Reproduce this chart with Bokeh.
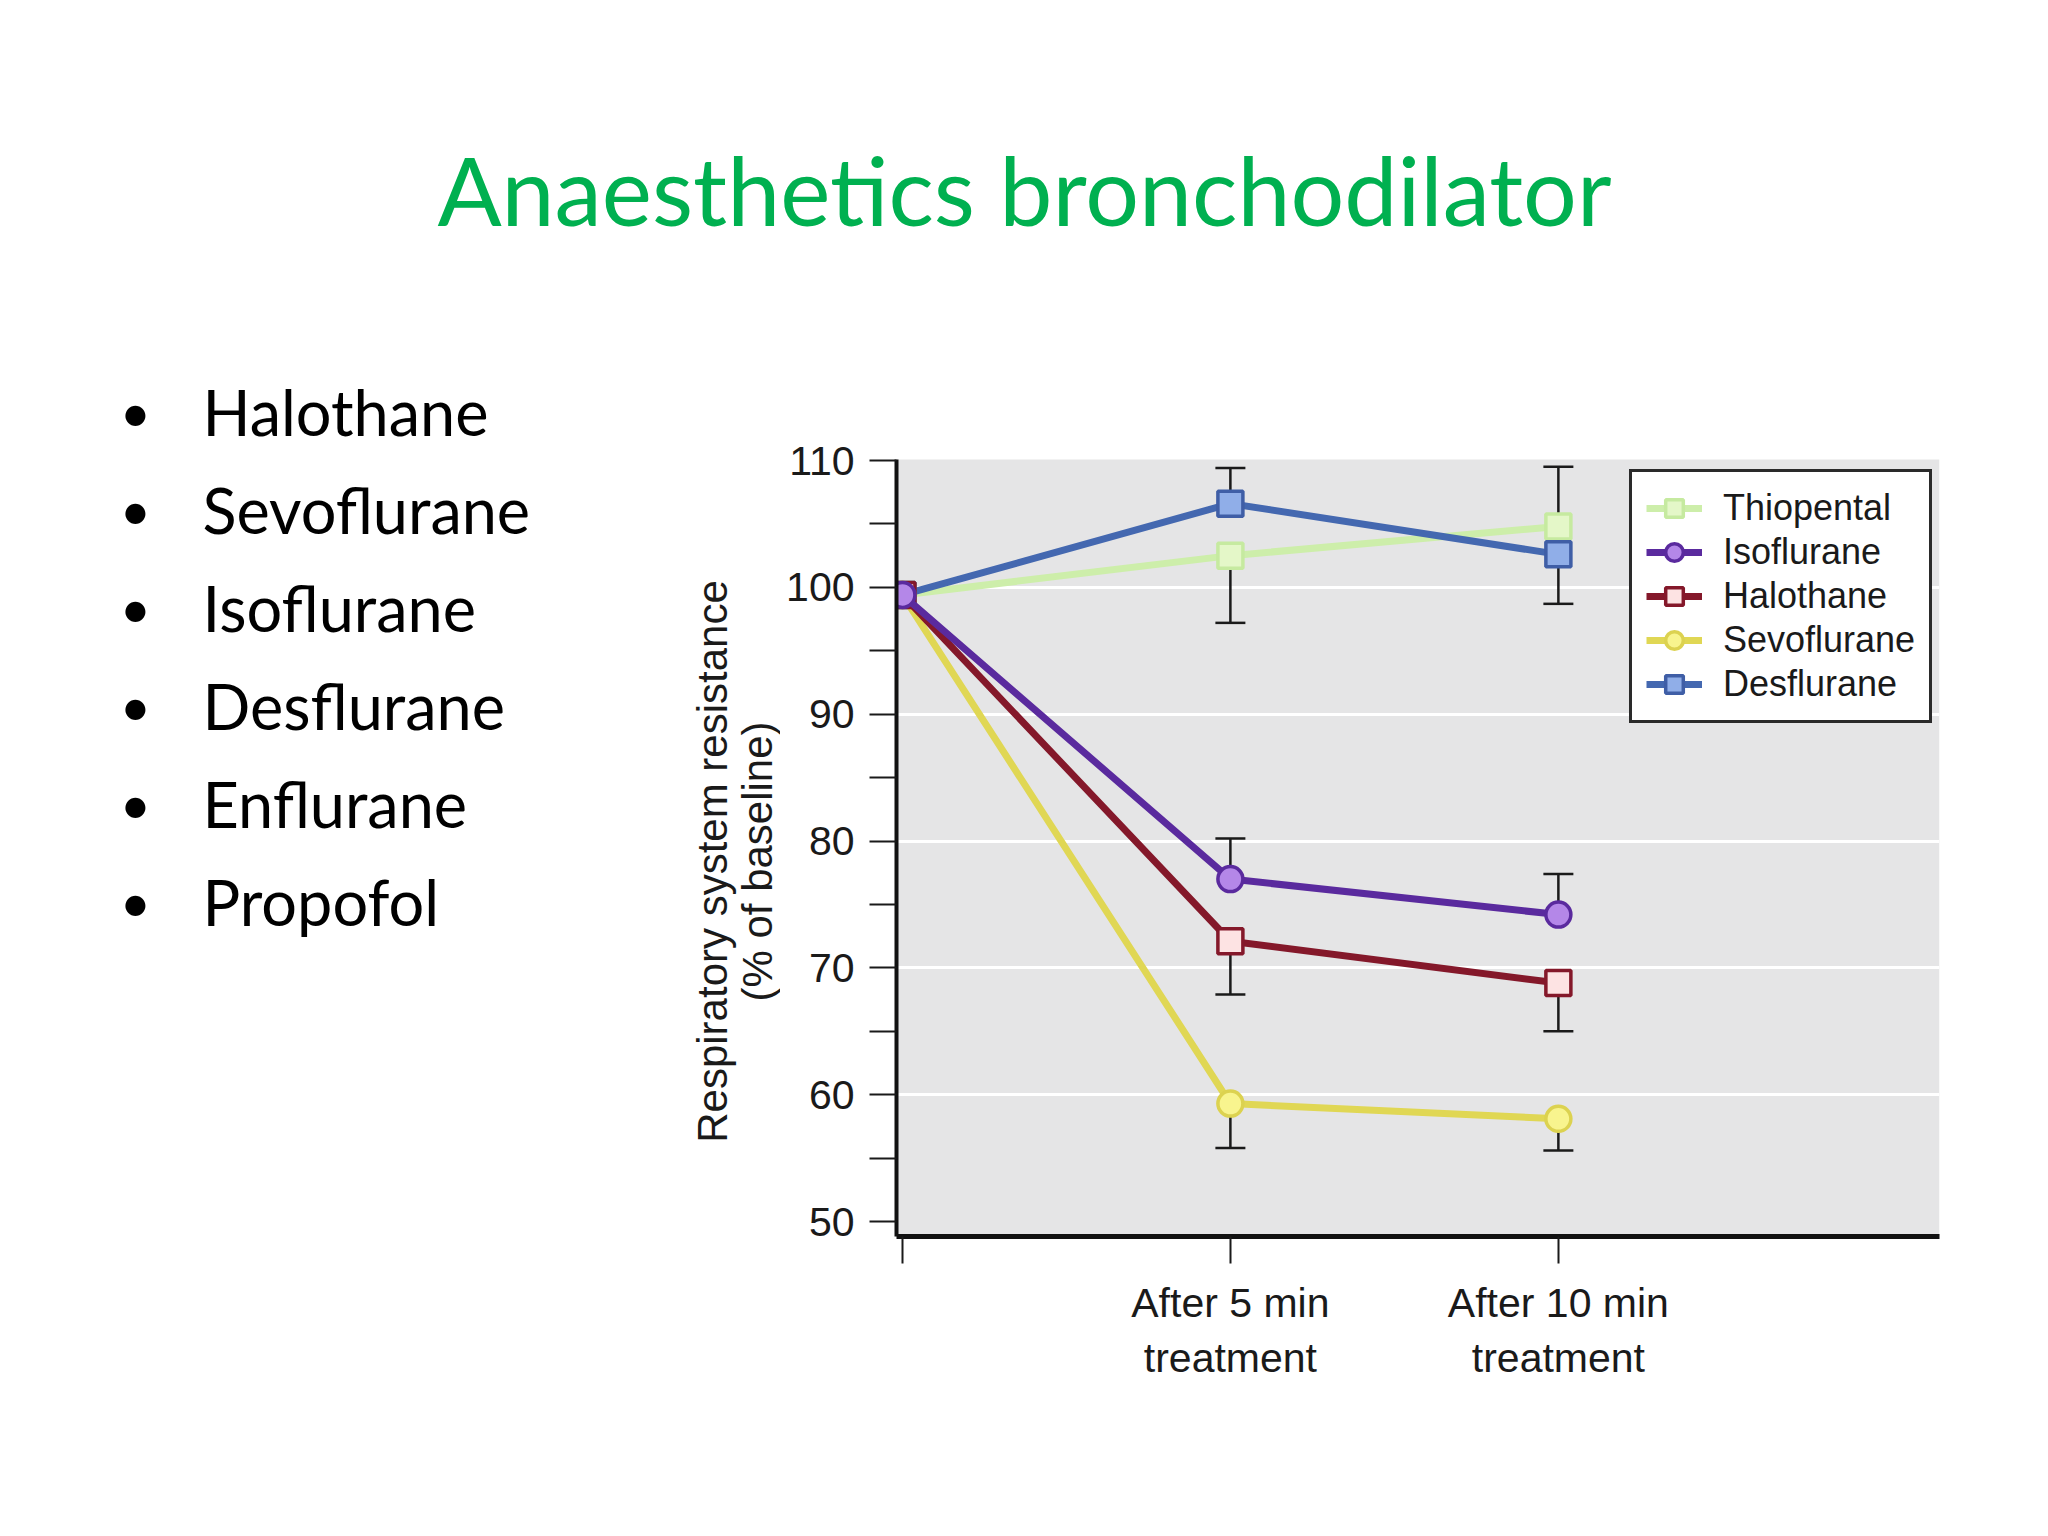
from math import pi

from bokeh.core.properties import value
from bokeh.embed import file_html
from bokeh.layouts import column, row
from bokeh.models import (BoxAnnotation, ColumnDataSource, FixedTicker, Legend,
                          LegendItem, Range1d, TeeHead, Whisker)
from bokeh.plotting import figure
from bokeh.resources import INLINE

# ---- data -------------------------------------------------------------
title_text = "Anaesthetics bronchodilator"
bullet_items = ["Halothane", "Sevoflurane", "Isoflurane",
                "Desflurane", "Enflurane", "Propofol"]

time_x = [0, 1, 2]
time_labels = ["", "After 5 min\ntreatment", "After 10 min\ntreatment"]
y_title_lines = ["Respiratory system resistance", "(% of baseline)"]

series_names = ["Thiopental", "Isoflurane", "Halothane", "Sevoflurane", "Desflurane"]
thiopental = [99.4, 102.5, 104.8]
isoflurane = [99.4, 77.0, 74.2]
halothane = [99.4, 72.1, 68.8]
sevoflurane = [99.4, 59.3, 58.1]
desflurane = [99.4, 106.6, 102.6]

# end of the (one-sided) error bar at 5 and 10 min
thiopental_err = [97.2, 109.5]
isoflurane_err = [80.2, 77.4]
halothane_err = [67.9, 65.0]
sevoflurane_err = [55.8, 55.6]
desflurane_err = [109.4, 98.7]

y_ticks = [50, 55, 60, 65, 70, 75, 80, 85, 90, 95, 100, 105, 110]
y_grid = [60, 70, 80, 90, 100]
y_span = (48.82, 110.08)       # extent of the grey plotting area
x_span = (-0.018, 3.162)

# ---- styling ------------------------------------------------------------
styles = {
    "Thiopental": dict(marker="square", line="#cdeeaa", fill="#e4f7c8", edge="#c6eaa0"),
    "Isoflurane": dict(marker="circle", line="#5a2a9e", fill="#b487e8", edge="#5a2a9e"),
    "Halothane": dict(marker="square", line="#84182a", fill="#fde3e3", edge="#84182a"),
    "Sevoflurane": dict(marker="circle", line="#e0d754", fill="#f8f48e", edge="#dcd250"),
    "Desflurane": dict(marker="square", line="#4468b0", fill="#90aee8", edge="#3f5ea6"),
}
values = {"Thiopental": thiopental, "Isoflurane": isoflurane, "Halothane": halothane,
          "Sevoflurane": sevoflurane, "Desflurane": desflurane}
errors = {"Thiopental": thiopental_err, "Isoflurane": isoflurane_err,
          "Halothane": halothane_err, "Sevoflurane": sevoflurane_err,
          "Desflurane": desflurane_err}

W, H = 2048, 1536
FL, FR, FT, FB = 896, 1939, 459, 1236   # grey plotting area on the page
TOP_H = 300            # strip holding the slide title
FRAME_TOP = 350        # the lower row's drawing area starts here (room for bullets)
LEFT_W = 780           # column holding the bullet list and y axis title
BULLET_X, TEXT_X = 135, 202
ROW_Y0, ROW_DY = 411, 98                # centre of first bullet line, line pitch

CHART_FONT = "Liberation Sans"
SLIDE_FONT = "Lato"
INK = "#1a1a1a"

px_per_unit = (FB - FT) / (y_span[1] - y_span[0])
y_top = y_span[1] + (FT - FRAME_TOP) / px_per_unit


def blank(width, height, border_bottom=0, border_top=0):
    f = figure(width=width, height=height, output_backend="svg", toolbar_location=None,
               title=None, x_axis_location=None, y_axis_location=None,
               min_border_left=0, min_border_right=0,
               min_border_top=border_top, min_border_bottom=border_bottom,
               outline_line_color=None)
    f.grid.visible = False
    f.background_fill_color = "white"
    f.border_fill_color = "white"
    return f


# ---- slide title strip --------------------------------------------------------
tf = blank(W, TOP_H)
tf.x_range = Range1d(0, W)
tf.y_range = Range1d(0, TOP_H)
tf.text(x=[W / 2], y=[TOP_H - 188], text=[title_text], text_align="center",
        text_baseline="middle", text_font=value(SLIDE_FONT),
        text_font_size="95px", text_color="#00b050")

# ---- bullet list and y axis title ----------------------------------------------
left_h = H - TOP_H
lf = blank(LEFT_W, left_h, border_top=FRAME_TOP - TOP_H, border_bottom=H - FB)
lf.x_range = Range1d(0, LEFT_W)
lf.y_range = Range1d(H - FB, H - FRAME_TOP)
page_y = lambda py: H - py
n = len(bullet_items)
rows_y = [page_y(ROW_Y0 + ROW_DY * k) for k in range(n)]
lf.text(x=[BULLET_X] * n, y=rows_y, text=["\u2022"] * n,
        text_align="center", text_baseline="middle", text_font=value(SLIDE_FONT),
        text_font_size="54px", text_color="black")
lf.text(x=[TEXT_X] * n, y=rows_y, text=bullet_items,
        text_align="left", text_baseline="middle", text_font=value(SLIDE_FONT),
        text_font_size="63px", text_color="black")
lf.text(x=[712, 757], y=[page_y(861)] * 2, text=y_title_lines, angle=pi / 2,
        text_align="center", text_baseline="middle", text_font=value(CHART_FONT),
        text_font_size="42px", text_color=INK)

# ---- chart ------------------------------------------------------------------
p = figure(width=W - LEFT_W, height=left_h, output_backend="svg", toolbar_location=None,
           title=None, x_range=Range1d(*x_span), y_range=Range1d(y_span[0], y_top),
           min_border_left=FL - LEFT_W, min_border_right=W - FR,
           min_border_top=FRAME_TOP - TOP_H, min_border_bottom=H - FB)
p.background_fill_color = "white"
p.border_fill_color = "white"
p.outline_line_color = None

# grey plotting area up to the top of the value scale
p.add_layout(BoxAnnotation(bottom=y_span[0], top=y_span[1], fill_color="#e5e5e6",
                           fill_alpha=1.0, line_color=None, level="image"))

p.xgrid.visible = False
p.ygrid.ticker = FixedTicker(ticks=y_grid)
p.ygrid.grid_line_color = "white"
p.ygrid.grid_line_width = 3

ya = p.yaxis[0]
ya.bounds = y_span
ya.ticker = FixedTicker(ticks=y_ticks)
ya.major_label_overrides = {t: ("" if t % 10 else str(t)) for t in y_ticks}
ya.major_label_text_font = CHART_FONT
ya.major_label_text_font_size = "41px"
ya.major_label_text_color = INK
ya.major_label_standoff = 15
ya.major_tick_out = 27
ya.major_tick_in = 0
ya.major_tick_line_width = 2
ya.major_tick_line_color = INK
ya.minor_tick_out = 0
ya.minor_tick_in = 0
ya.axis_line_width = 4
ya.axis_line_color = "#111111"

xa = p.xaxis[0]
xa.ticker = FixedTicker(ticks=time_x)
xa.major_label_overrides = dict(zip(time_x, time_labels))
xa.major_label_text_font = CHART_FONT
xa.major_label_text_font_size = "41px"
xa.major_label_text_color = INK
xa.major_label_standoff = 16
xa.major_tick_out = 27
xa.major_tick_in = 0
xa.major_tick_line_width = 2
xa.major_tick_line_color = INK
xa.minor_tick_out = 0
xa.minor_tick_in = 0
xa.axis_line_width = 5
xa.axis_line_color = "#111111"

# one-sided error bars, beneath the lines and markers
up = dict(base=[], lower=[], upper=[])
down = dict(base=[], lower=[], upper=[])
for name in series_names:
    for i, end in enumerate(errors[name]):
        x = time_x[i + 1]
        v = values[name][i + 1]
        if end > v:
            up["base"].append(x); up["lower"].append(v); up["upper"].append(end)
        else:
            down["base"].append(x); down["lower"].append(end); down["upper"].append(v)

cap = dict(size=30, line_width=2.5, line_color=INK)
for src, heads in ((up, dict(upper_head=TeeHead(**cap), lower_head=None)),
                   (down, dict(lower_head=TeeHead(**cap), upper_head=None))):
    p.add_layout(Whisker(source=ColumnDataSource(src), base="base", lower="lower",
                         upper="upper", line_width=2.5, line_color=INK,
                         level="underlay", **heads))

draw_order = ["Thiopental", "Desflurane", "Sevoflurane", "Halothane", "Isoflurane"]
renderers = {}
for name in draw_order:
    s = styles[name]
    src = ColumnDataSource(dict(x=time_x, y=values[name]))
    ln = p.line("x", "y", source=src, line_color=s["line"], line_width=7)
    mk = p.scatter("x", "y", source=src, marker=s["marker"], size=25,
                   fill_color=s["fill"], line_color=s["edge"], line_width=3.5)
    renderers[name] = [ln, mk]

legend = Legend(items=[LegendItem(label=n, renderers=renderers[n]) for n in series_names],
                location=(733, FB - 723), orientation="vertical",
                label_text_font=CHART_FONT, label_text_font_size="36px",
                label_text_color=INK, label_height=44, glyph_height=44,
                glyph_width=56, label_standoff=21, spacing=0, padding=14, margin=0,
                border_line_color="#2a2a2a", border_line_width=3, border_line_alpha=1.0,
                background_fill_color="white", background_fill_alpha=1.0)
p.add_layout(legend, "center")

page = column(tf, row(lf, p, spacing=0), spacing=0)
open("out.html", "w").write(file_html(page, INLINE))
